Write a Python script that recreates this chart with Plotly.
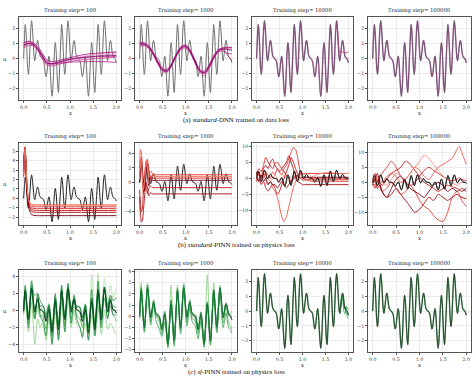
import plotly.graph_objects as go

# ---------------- data ----------------
# ground-truth curve u(x) (read from the picture)
x_true = [0.000,0.018,0.035,0.052,0.069,0.086,0.103,0.120,0.137,0.155,0.172,0.189,0.206,0.223,0.240,0.256,0.272,0.288,0.303,0.320,0.337,0.355,0.373,0.393,0.412,0.430,0.448,0.465,0.482,0.497,0.513,0.529,0.545,0.562,0.579,0.596,0.613,0.630,0.648,0.665,0.682,0.699,0.716,0.733,0.750,0.767,
          0.785,0.803,0.820,0.837,0.854,0.871,0.888,0.905,0.922,0.940,0.957,0.974,0.991,1.008,1.025,1.041,1.057,1.073,1.088,1.105,1.122,1.140,1.158,1.178,1.197,1.215,1.233,1.250,1.267,1.282,1.298,1.314,1.330,1.347,1.364,1.381,1.398,1.415,1.433,1.450,1.467,1.484,1.501,1.518,1.535,1.552,
          1.571,1.589,1.606,1.623,1.640,1.657,1.674,1.691,1.708,1.726,1.743,1.760,1.777,1.794,1.811,1.827,1.843,1.859,1.874,1.891,1.908,1.926,1.944,1.964,1.983,2.000]
u_true = [0,1.35,2.25,1.75,0.6,-0.6,-1.05,-0.5,0.75,2.0,2.5,2.0,1.1,0.2,-0.15,0.15,0.6,1.05,1.2,0.95,0.45,0.15,0.07,0,-0.07,-0.15,-0.45,-0.95,-1.2,-1.05,-0.6,-0.15,0.15,-0.2,-1.1,-2.0,-2.5,-2.0,-0.75,0.5,1.05,0.6,-0.6,-1.75,-2.25,-1.35,
          0,1.35,2.25,1.75,0.6,-0.6,-1.05,-0.5,0.75,2.0,2.5,2.0,1.1,0.2,-0.15,0.15,0.6,1.05,1.2,0.95,0.45,0.15,0.07,0,-0.07,-0.15,-0.45,-0.95,-1.2,-1.05,-0.6,-0.15,0.15,-0.2,-1.1,-2.0,-2.5,-2.0,-0.75,0.5,1.05,0.6,-0.6,-1.75,-2.25,-1.35,
          0,1.35,2.25,1.75,0.6,-0.6,-1.05,-0.5,0.75,2.0,2.5,2.0,1.1,0.2,-0.15,0.15,0.6,1.05,1.2,0.95,0.45,0.15,0.07,0,-0.1,-0.28]

steps = ["100", "1000", "10000", "100000"]
x_ticks = [0, 0.5, 1.0, 1.5, 2.0]
x_tick_text = ["0.0", "0.5", "1.0", "1.5", "2.0"]
captions = ["(a) <i>standard</i>-DNN trained on data loss",
            "(b) <i>standard</i>-PINN trained on physics loss",
            "(c) <i>sf</i>-PINN trained on physics loss"]

# ---- (a) standard-DNN ----
a1_x = [0,0.1,0.2,0.3,0.4,0.5,0.6,0.8,1.0,1.2,1.4,1.6,1.8,2.0]
a1_lines = [
    [0.9,1.05,1.0,0.75,0.3,-0.2,-0.3,-0.2,-0.05,0.1,0.2,0.3,0.38,0.45],
    [0.8,0.95,0.9,0.6,0.1,-0.35,-0.4,-0.25,-0.1,0.0,0.1,0.18,0.25,0.3],
    [1.0,1.1,1.0,0.7,0.2,-0.3,-0.35,-0.2,-0.05,0.05,0.1,0.12,0.13,0.13],
    [0.7,0.85,0.85,0.55,0.05,-0.45,-0.5,-0.35,-0.2,-0.1,-0.05,0.0,0.05,0.1],
    [0.9,1.0,0.95,0.65,0.2,-0.25,-0.35,-0.3,-0.25,-0.22,-0.2,-0.2,-0.22,-0.25],
    [1.05,1.15,1.05,0.8,0.35,-0.1,-0.2,-0.1,0.05,0.2,0.3,0.35,0.4,0.42],
    [0.85,1.0,0.95,0.6,0.15,-0.3,-0.35,-0.2,-0.05,0.05,0.1,0.15,0.18,0.2],
]
a2_x = [0,0.1,0.2,0.3,0.4,0.5,0.6,0.7,0.8,0.9,1.0,1.1,1.2,1.3,1.4,1.5,1.6,1.7,1.8,1.9,2.0]
a2_lines = [
    [1.05,1.0,0.8,0.35,-0.25,-0.7,-0.75,-0.3,0.3,0.75,0.85,0.5,-0.15,-0.75,-0.9,-0.5,0.1,0.55,0.7,0.72,0.7],
    [0.9,0.9,0.7,0.25,-0.35,-0.8,-0.85,-0.4,0.2,0.65,0.75,0.4,-0.25,-0.85,-1.0,-0.6,0.0,0.45,0.6,0.65,0.6],
    [0.8,0.85,0.65,0.2,-0.4,-0.85,-0.9,-0.45,0.15,0.6,0.7,0.35,-0.3,-0.9,-1.15,-0.7,-0.05,0.4,0.5,0.35,0.3],
    [1.1,1.05,0.85,0.4,-0.2,-0.65,-0.7,-0.3,0.35,0.8,0.9,0.55,-0.1,-0.7,-0.85,-0.45,0.15,0.6,0.6,0.25,-0.15],
    [0.95,0.95,0.75,0.3,-0.3,-0.75,-0.85,-0.4,0.25,0.75,0.85,0.45,-0.2,-0.8,-0.95,-0.6,0.0,0.5,0.7,0.75,0.72],
    [1.0,0.95,0.75,0.3,-0.3,-0.75,-0.8,-0.35,0.25,0.7,0.8,0.45,-0.2,-0.8,-0.95,-0.55,0.05,0.5,0.65,0.6,0.55],
]
a3_dev1_x = [1.743,1.77,1.80,1.83,1.86,1.90,1.95,2.0]
a3_dev1_y = [2.5,1.6,0.5,0.35,0.45,0.4,0.4,0.42]
a3_dev2_x = [1.19,1.23,1.267,1.30,1.33,1.37,1.40]
a3_dev2_y = [0.0,-0.4,-0.7,-0.5,-0.3,-1.5,-2.3]
a_flat_x = [1.40,1.55]
a_flat_y = [-1.0,-1.0]

# ---- (b) standard-PINN ----
b1_x = [0,0.015,0.03,0.045,0.06,0.08,0.1,0.13,0.16,0.2,0.3,0.5,1.0,1.5,2.0]
b1_lines = [
    [2.2,4.3,5.4,4.6,2.8,1.0,0.1,-0.4,-0.6,-0.68,-0.7,-0.7,-0.7,-0.7,-0.7],
    [2.6,4.6,5.5,4.4,2.5,0.7,-0.2,-0.6,-0.8,-0.88,-0.9,-0.9,-0.9,-0.9,-0.9],
    [2.9,4.8,5.3,4.0,2.2,0.5,-0.4,-0.8,-1.0,-1.07,-1.1,-1.1,-1.1,-1.1,-1.1],
    [2.4,4.4,5.2,4.2,2.4,0.6,-0.4,-0.9,-1.15,-1.26,-1.3,-1.3,-1.3,-1.3,-1.3],
    [3.0,4.9,5.4,4.1,2.0,0.3,-0.6,-1.1,-1.35,-1.46,-1.5,-1.5,-1.5,-1.5,-1.5],
    [2.7,4.7,5.0,3.9,2.0,0.2,-0.8,-1.35,-1.65,-1.8,-1.85,-1.85,-1.85,-1.85,-1.85],
    [2.5,4.5,5.3,4.3,2.6,0.8,-0.1,-0.5,-0.7,-0.78,-0.8,-0.8,-0.8,-0.8,-0.8],
]
b2_x = [0,0.02,0.04,0.06,0.08,0.1,0.12,0.14,0.17,0.2,0.24,0.28,0.35,0.5,1.0,1.5,2.0]
b2_lines = [
    [2.0,4.5,4.0,0.5,-1.5,-0.5,1.5,3.0,2.5,1.0,1.6,1.2,1.1,1.1,1.1,1.1,1.1],
    [1.0,3.0,3.5,1.5,-0.5,-1.0,0.5,2.0,3.2,1.8,0.5,1.0,0.85,0.85,0.85,0.85,0.85],
    [0.5,2.0,2.5,1.0,-0.8,0.0,1.8,2.6,1.5,0.2,0.9,0.6,0.6,0.6,0.6,0.6,0.6],
    [-1.0,-3.0,-4.0,-3.5,-1.5,0.5,1.0,-0.5,-1.5,-0.8,-0.5,-0.7,-0.7,-0.7,-0.7,-0.7,-0.7],
    [-2.0,-4.5,-5.4,-5.2,-4.0,-2.5,-1.0,0.0,-0.8,-1.8,-1.4,-1.55,-1.55,-1.55,-1.55,-1.55,-1.55],
    [0.0,1.5,3.0,2.0,0.0,-1.2,0.5,2.2,1.0,-0.5,0.6,0.3,0.3,0.3,0.3,0.3,0.3],
    [0.5,2.5,3.0,0.8,-1.0,-0.2,1.0,2.5,2.0,0.8,1.0,0.85,0.85,0.85,0.85,0.85,0.85],
]
b3_x = [0,0.05,0.1,0.15,0.2,0.25,0.3,0.35,0.4,0.45,0.5,0.55,0.6,0.65,0.7,0.75,0.8,0.85,0.9,0.95,1.0,1.1,1.2,1.4,1.6,1.8,2.0]
b3_lines = [
    [0,2,-1,1.5,-0.5,-2,-1,-3,-4,-6,-9,-12,-13.5,-12,-9,-6,-3,-1,0.5,0.3,0,-0.5,-1.0,-1.0,-1.0,-1.0,-1.0],
    [0,-1,1,0,2,1,0,2,1,3,2,1,3,4,6,8,9.5,9.0,6,2,0.5,0.2,0.0,0.0,0.0,0.0,0.0],
    [1,3,2,4,6.5,5,4,3,4.5,5,4,3,2,1,0,-1,-0.5,0.5,1,1.3,1.5,1.5,1.5,1.5,1.5,1.5,1.5],
    [0,1,-2,-1,-3,-4,-3,-2,-3,-5,-4,-2,0,2,4,6.5,5,3,1,0,-0.5,-0.5,-0.5,-0.5,-0.5,-0.5,-0.5],
    [-1,2,0,3,4,3,5,6,4,3,2,3,4,5,7,5,3,1,-1,-1.5,-2,-2,-2,-2,-2,-2,-2],
    [2,-1,1,-1,0,-2,-1,-2,-2,-3,-2,-1,-2,-3,-2,-1,0,1,0.5,0.2,0.3,0.3,0.3,0.3,0.3,0.3,0.3],
    [0,1,-1,0.5,1,0,-1,0,1,0,-1,0,1,0,-1,0,1,0,-1,0,0.8,1.5,0.5,1.5,1.8,1.4,1.5],
]
b4_x = [0,0.05,0.1,0.15,0.2,0.3,0.4,0.5,0.6,0.7,0.8,0.9,1.0,1.1,1.2,1.3,1.4,1.5,1.6,1.7,1.8,1.85,1.9,2.0]
b4_lines = [
    [0,2,-1,1,0,2,3,2,0,1,3,5,4,2,1,3,5,6,7,8,11,12,10,6],
    [0,-2,1,-1,-3,-2,0,-2,-4,-3,-1,-3,-6,-8,-9,-11,-12.5,-13,-10,-5,-3,-4,-6,-8],
    [1,3,0,2,3,5,7,5,2,0,-1,0,2,4,5,4,3,2,1,0.5,1,1.5,1,0.5],
    [0,-1,2,0,-1,1,3,4,5,7,6,4,2,0,-1,-2,-3,-2,-1,-1.5,-2,-2.5,-2,-3],
    [0,1,-2,-1,-3,-5,-4,-2,-4,-6,-8,-10,-9,-7,-5,-6,-4,-5,-6,-5,-4,-4.5,-5,-5.5],
    [-1,1,3,0,-3,-5,-2,1,2,0,-2,-3,-4,-5,-3,-1,0,-1,-3,-2,-3,-2.5,-3,-2],
    [0,-1,2,1,0,-1,1,3,2,1,3,5,7,9,8,6,4,2,1,0,-1,-0.5,0,1],
]

# ---- (c) sf-PINN ----
c_x = [0.000,0.035,0.103,0.172,0.240,0.303,0.355,0.393,0.430,0.482,0.545,0.613,0.682,0.750,
       0.785,0.820,0.888,0.957,1.025,1.088,1.140,1.178,1.215,1.267,1.330,1.398,1.467,1.535,
       1.571,1.606,1.674,1.743,1.811,1.874,1.926,1.964,2.000]
c1_lines = [
    [0.2,2.8,-1.5,3.6,-0.8,1.8,-0.3,0.4,-0.8,-2.0,0.2,-3.0,1.8,-2.8, 0.2,3.0,-1.6,3.2,-0.5,2.0,0.5,0.3,-0.5,-1.8,0.8,-2.8,4.3,-1.5, 1.0,4.4,-0.5,3.8,0.8,3.0,1.5,2.0,2.6],
    [-0.5,1.5,-2.5,1.0,-4.0,-1.0,-2.0,-1.5,-2.0,-3.5,-1.0,-3.8,0.0,-3.5, -1.5,1.0,-2.5,1.5,-2.0,0.0,-1.5,-1.8,-2.0,-3.0,-1.5,-3.5,-0.5,-3.0, -2.0,0.5,-2.8,0.0,-2.2,-1.5,-2.0,-2.5,-2.8],
    [0,2.0,-1.5,2.0,-1.0,0.5,-0.8,-0.5,-1.0,-2.2,-0.5,-3.0,0.5,-3.0, -0.8,1.5,-1.8,1.8,-1.0,0.5,-0.5,-0.8,-1.0,-2.0,-0.3,-2.8,0.6,-2.3, -0.5,1.5,-1.5,1.5,-0.8,0.5,-0.5,-0.8,-1.3],
    [0.3,2.5,-0.5,3.0,1.8,2.0,1.2,0.8,0.5,-0.5,0.8,-1.8,1.5,-1.5, 0.5,2.5,-0.5,2.8,0.3,1.5,0.5,0.5,0.3,-0.8,0.8,-2.0,1.5,-1.5, 0.5,2.5,-0.5,2.5,0.3,1.5,0.5,0.5,0.3],
    [-0.2,3.0,-2.0,3.5,-1.0,2.0,-0.5,-1.0,-1.5,-3.0,0.5,-4.0,2.0,-3.5, -1.0,3.0,-2.5,3.2,-1.5,1.8,-0.8,-1.5,-2.0,-3.2,0.5,-3.5,2.5,-3.0, -0.5,3.5,-2.0,2.8,-1.0,1.2,-0.5,-0.5,-0.5],
    [0.1,2.4,-0.9,2.7,0.2,1.5,0.5,0.6,0.4,-0.8,0.6,-2.2,1.4,-1.8, 0.3,2.4,-0.8,2.6,0.2,1.4,0.4,0.5,0.4,-0.8,0.6,-2.0,1.4,-1.8, 0.4,2.5,-0.5,2.8,0.5,1.8,1.2,1.3,1.5],
    [0,2.3,-1.1,2.6,-0.2,1.3,0.1,0,-0.2,-1.3,0.1,-2.6,1.1,-2.3, 0,2.3,-1.1,2.6,-0.2,1.3,0.1,0,-0.2,-1.3,0.1,-2.6,1.1,-2.3, 0,2.3,-1.1,2.6,-0.2,1.3,0.1,0.1,-0.3],
]
c2_lines = [
    [0,3.0,-1.5,3.0,-0.5,1.5,0.1,0,-0.3,-1.5,0.5,-2.8,2.8,-2.5, 0,2.8,-1.2,3.0,-0.5,1.5,0.1,0,-0.4,-1.5,0.3,-2.6,3.7,-2.5, 0,3.0,-1.2,2.8,0,1.2,0.3,0.2,0.5],
    [0,2.4,-1.2,2.6,-0.5,1.2,0,-0.2,-0.5,-1.6,0.0,-2.6,1.5,-2.4, -0.2,2.2,-1.3,2.6,-0.6,1.0,-0.2,-0.3,-0.6,-1.6,-0.1,-2.6,1.2,-2.4, -0.3,2.2,-1.3,2.3,-0.6,0.8,-0.5,-0.8,-1.2],
    [-0.2,2.0,-1.4,2.2,-0.8,0.9,-0.4,-0.8,-1.2,-1.8,-0.5,-2.8,0.9,-2.7, -0.5,2.0,-1.6,2.2,-0.9,0.7,-0.5,-0.7,-1.0,-2.0,-0.5,-2.8,1.0,-2.6, -0.5,2.0,-1.5,2.0,-1.0,0.3,-1.0,-1.2,-1.5],
    [0,2.6,-0.9,2.8,0,1.4,0.3,0.2,0,-1.0,0.4,-2.3,1.4,-2.0, 0.2,2.5,-0.8,2.8,0,1.4,0.3,0.2,0.1,-1.0,0.4,-2.3,1.3,-2.0, 0.2,2.4,-0.8,2.6,0.1,1.1,0.4,0.1,0.0],
    [0,2.3,-1.0,2.5,-0.1,1.2,0.2,0.1,-0.1,-1.2,0.2,-2.5,1.1,-2.2, 0.1,2.3,-1.0,2.5,-0.1,1.2,0.2,0.1,-0.1,-1.2,0.2,-2.5,1.1,-2.2, 0.1,2.3,-1.0,2.5,-0.1,1.1,0.2,0.0,-0.3],
]
c3_dev_x = [1.811,1.83,1.85,1.874,1.90,1.926,1.95,1.975,2.0]
c3_dev_lines = [
    [-0.1,0.3,0.8,1.0,0.3,0.1,0.3,-0.1,-0.3],
    [-0.2,0.2,0.6,0.9,0.0,-0.2,0.2,-0.4,-0.5],
    [0.0,0.4,0.9,1.1,0.4,0.2,0.3,0.2,0.1],
]

# y-axis settings per panel (row-major)
y_ranges = [[-2.75,2.75],[-2.75,2.75],[-2.75,2.75],[-2.75,2.75],
            [-2.85,5.9],[-5.8,5.4],[-14.6,11.0],[-14.2,13.1],
            [-4.9,4.8],[-3.2,4.15],[-2.75,2.75],[-2.75,2.75]]
y_ticks = [[-2,-1,0,1,2]]*4 + [[-2,-1,0,1,2,3,4,5],[-4,-2,0,2,4],[-10,-5,0,5,10],[-10,-5,0,5,10]] + \
          [[-4,-2,0,2,4],[-3,-2,-1,0,1,2,3,4],[-2,-1,0,1,2],[-2,-1,0,1,2]]

pink = ['#ec90c8','#e266b4','#d8449f','#c83091','#b41d84','#9c1077','#7a0a66']
reds = ['#f49080','#f05a4a','#e83a32','#d82424','#c41616','#a80c12','#7a0010']
greens = ['#b5e0ac','#8fd088','#62bb66','#3ea456','#228a42','#0b6e2e','#00441b']

# ---------------- figure ----------------
W, H = 474, 383
col_px = [(19, 121), (135, 236.5), (252, 353), (368, 471)]
row_px = [(17, 100), (143, 225), (270, 352)]
SERIF = "DejaVu Serif"

fig = go.Figure()


def ax(k):
    return ("x" if k == 1 else f"x{k}"), ("y" if k == 1 else f"y{k}")


def line(k, x, y, color, width=0.9, opacity=0.85):
    xa, ya = ax(k)
    fig.add_trace(go.Scatter(x=x, y=y, mode="lines", xaxis=xa, yaxis=ya,
                             line=dict(color=color, width=width, shape="spline", smoothing=0.8),
                             opacity=opacity, hoverinfo="skip", showlegend=False))


truth_grey = "#6a6a6a"
truth_dark = "#1e1e1e"

# row a
line(1, x_true, u_true, truth_grey, 1.0, 1)
for i, yy in enumerate(a1_lines):
    line(1, a1_x, yy, pink[i % 7], 1.0, 0.8)
line(2, x_true, u_true, truth_grey, 1.0, 1)
for i, yy in enumerate(a2_lines):
    line(2, a2_x, yy, pink[(i + 1) % 7], 1.0, 0.8)
line(3, x_true, u_true, "#8a3a80", 1.4, 0.8)
line(3, a3_dev1_x, a3_dev1_y, pink[2], 1.0, 0.9)
line(3, a3_dev2_x, a3_dev2_y, pink[0], 1.0, 0.8)
line(3, a_flat_x, a_flat_y, pink[1], 0.8, 0.7)
line(3, x_true, u_true, "#4a4a4a", 0.7, 0.7)
line(4, x_true, u_true, "#8a3a80", 1.4, 0.8)
line(4, a_flat_x, a_flat_y, pink[1], 0.8, 0.7)
line(4, x_true, u_true, "#4a4a4a", 0.7, 0.7)

# row b
for k, xs, lines_ in [(5, b1_x, b1_lines), (6, b2_x, b2_lines), (7, b3_x, b3_lines), (8, b4_x, b4_lines)]:
    line(k, x_true, u_true, truth_dark, 1.0, 1)
    for i, yy in enumerate(lines_):
        line(k, xs, yy, reds[(i + 1) % 7], 1.0, 0.9)
for k in (7, 8):
    line(k, x_true, u_true, truth_dark, 1.0, 0.9)

# row c
line(9, x_true, u_true, truth_dark, 1.0, 1)
for i, yy in enumerate(c1_lines):
    line(9, c_x, yy, greens[i % 7], 1.0, 0.85)
line(10, x_true, u_true, truth_dark, 1.0, 1)
for i, yy in enumerate(c2_lines):
    line(10, c_x, yy, greens[(i + 1) % 7], 1.0, 0.85)
line(11, x_true, u_true, "#2e8b40", 1.4, 0.85)
for i, yy in enumerate(c3_dev_lines):
    line(11, c3_dev_x, yy, greens[i + 2], 0.9, 0.9)
line(11, x_true, u_true, truth_dark, 0.8, 0.85)
line(12, x_true, u_true, "#2e8b40", 1.4, 0.85)
line(12, x_true, u_true, truth_dark, 0.8, 0.85)

layout = dict(width=W, height=H, margin=dict(l=0, r=0, t=0, b=0, autoexpand=False),
              paper_bgcolor="white", plot_bgcolor="white", showlegend=False)
annotations = []
for r in range(3):
    top, bot = row_px[r]
    for c in range(4):
        k = r * 4 + 1 + c
        left, right = col_px[c]
        xname = "xaxis" if k == 1 else f"xaxis{k}"
        yname = "yaxis" if k == 1 else f"yaxis{k}"
        xa, ya = ax(k)
        common = dict(showline=True, mirror=True, linecolor="#555555", linewidth=0.8,
                      showgrid=True, gridcolor="#ebebeb", gridwidth=0.6, zeroline=False,
                      ticks="outside", ticklen=2, tickcolor="#555555", automargin=False,
                      tickfont=dict(family=SERIF, size=4.7, color="#333333"))
        layout[xname] = dict(common, domain=[left / W, right / W], anchor=ya,
                             range=[-0.1, 2.1], tickvals=x_ticks, ticktext=x_tick_text)
        layout[yname] = dict(common, domain=[1 - bot / H, 1 - top / H], anchor=xa,
                             range=y_ranges[k - 1], tickvals=y_ticks[k - 1])
        annotations.append(dict(text=f"Training step= {steps[c]}", xref="paper", yref="paper",
                                x=(left + right) / 2 / W, y=1 - (top - 1) / H, yanchor="bottom",
                                xanchor="center", showarrow=False,
                                font=dict(family=SERIF, size=5.3, color="#222222")))
        annotations.append(dict(text="x", xref="paper", yref="paper",
                                x=(left + right) / 2 / W, y=1 - (bot + 8) / H, yanchor="top",
                                xanchor="center", showarrow=False,
                                font=dict(family=SERIF, size=5.3, color="#222222")))
        if c == 0:
            annotations.append(dict(text="u", xref="paper", yref="paper",
                                    x=5 / W, y=1 - (top + bot) / 2 / H, yanchor="middle",
                                    xanchor="center", showarrow=False,
                                    font=dict(family=SERIF, size=5.3, color="#222222")))
    annotations.append(dict(text=captions[r], xref="paper", yref="paper",
                            x=236 / W, y=1 - (bot + 20) / H, yanchor="middle", xanchor="center",
                            showarrow=False,
                            font=dict(family="Liberation Serif", size=6.9, color="#111111")))
layout["annotations"] = annotations
fig.update_layout(**layout)
fig.write_html("out.html", config={"displayModeBar": False},
               post_script="document.body.style.margin='0px';")
